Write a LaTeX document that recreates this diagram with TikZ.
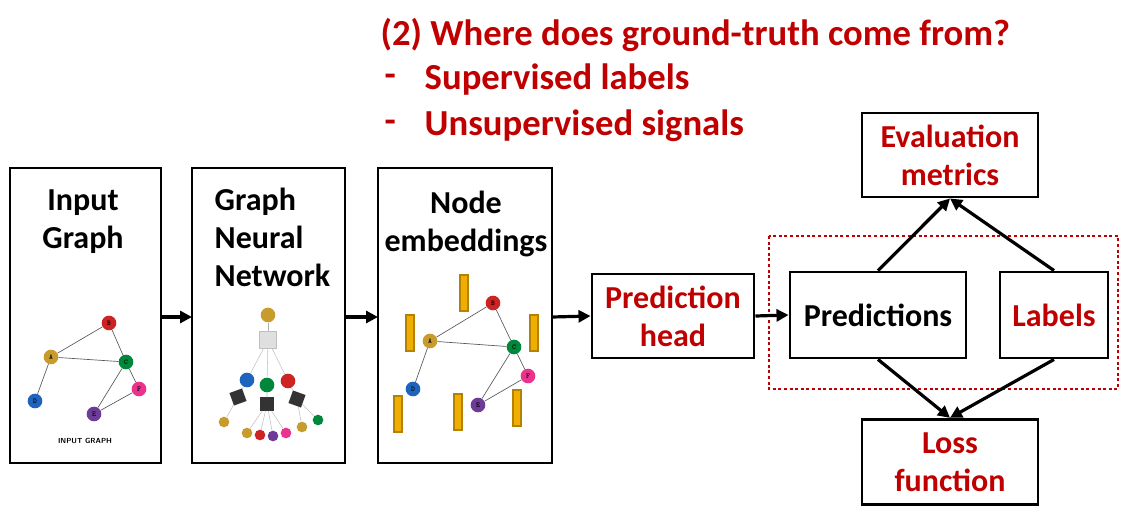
\documentclass[tikz,border=0pt]{standalone}
\usepackage{fontspec}
\setmainfont{Carlito}
\usetikzlibrary{arrows.meta}
\definecolor{dred}{RGB}{192,0,0}
\definecolor{gold}{RGB}{200,155,45}
\definecolor{nblue}{RGB}{30,100,190}
\definecolor{ngreen}{RGB}{0,135,60}
\definecolor{nred}{RGB}{205,35,35}
\definecolor{npink}{RGB}{235,50,140}
\definecolor{npurple}{RGB}{110,60,150}
\definecolor{bar}{RGB}{240,175,0}
\definecolor{bardk}{RGB}{180,130,0}
\tikzset{
  box/.style={draw, line width=2.2pt, inner sep=0pt},
  btxt/.style={font=\fontsize{24}{28.5}\selectfont\bfseries, align=center},
  ttxt/.style={anchor=west, text=dred, font=\fontsize{27.5}{30}\selectfont\bfseries},
  gn/.style={circle, fill=#1, minimum size=11pt, inner sep=0pt, font=\fontsize{5.5}{5.5}\selectfont\ttfamily\bfseries},
  ge/.style={draw=gray!70!black, line width=0.5pt},
  emb/.style={fill=bar, draw=bardk, line width=1.8pt, minimum width=6pt, minimum height=27pt, inner sep=0pt},
  arr/.style={-{Triangle[length=9pt,width=9pt]}, line width=2.4pt},
}
\begin{document}
\begin{tikzpicture}[x=0.75pt, y=-0.75pt]
\useasboundingbox (0,0) rectangle (1123,518);
% title
\node[ttxt] (title) at (376,35) {(2) Where does ground-truth come from?};
\node[ttxt] (dash1) at (380,80) {-};
\node[ttxt] (sup) at (420,80) {Supervised labels};
\node[ttxt] (dash2) at (380,126) {-};
\node[ttxt] (uns) at (420,126) {Unsupervised signals};
% boxes
\draw[box] (10,168) rectangle (161,463);
\draw[box] (192,168) rectangle (345,463);
\draw[box] (378,168) rectangle (552,463);
\node[btxt] (inp) at (83,222) {Input\\Graph};
\node[btxt, align=left, anchor=north west] (gnn) at (210,183) {Graph\\Neural\\Network};
\node[btxt] (ne) at (466,224) {Node\\embeddings};
\node[box, btxt, text=dred, minimum width=121.5pt, minimum height=63pt] (head) at (673,316) {Prediction\\head};
\node[box, btxt, minimum width=132pt, minimum height=64.5pt] (pred) at (878,315) {Predictions};
\node[box, btxt, text=dred, minimum width=81pt, minimum height=64.5pt] (lab) at (1054,315) {Labels};
\node[box, btxt, text=dred, minimum width=132pt, minimum height=63pt] (eval) at (950,155) {Evaluation\\metrics};
\node[box, btxt, text=dred, minimum width=132pt, minimum height=64pt] (loss) at (950,462) {Loss\\function};
\draw[dred, dotted, line width=2.2pt] (769,236) rectangle (1118,389);
% arrows
\draw[arr] (161,317) -- (192,317);
\draw[arr] (345,317) -- (378,317);
\draw[arr] (552,317) -- (head.west);
\draw[arr] (head.east) -- (pred.west);
\draw[arr] (pred.north) -- (eval.south);
\draw[arr] (lab.north) -- (eval.south);
\draw[arr] (pred.south) -- (loss.north);
\draw[arr] (lab.south) -- (loss.north);
% input graph
\node[gn=nred] (b1) at (109,323) {B};
\node[gn=gold] (a1) at (51,357) {A};
\node[gn=ngreen] (c1) at (126,362) {C};
\node[gn=npink] (f1) at (139,389) {F};
\node[gn=nblue] (d1) at (35,401) {D};
\node[gn=npurple] (e1) at (94,414) {E};
\draw[ge] (a1)--(b1) (b1)--(c1) (a1)--(c1) (a1)--(d1) (c1)--(f1) (c1)--(e1) (e1)--(f1);
\node[font=\fontsize{5.5}{6}\selectfont\sffamily\bfseries] (igl) at (85,441) {INPUT GRAPH};
% gnn tree
\node[gn=gold] (t0) at (268,315) {};
\node[fill=gray!25, draw=gray!50, minimum size=13pt, inner sep=0pt] (sq) at (268,340) {};
\node[gn=nblue] (t1) at (247,380) {};
\node[gn=ngreen] (t2) at (267,385) {};
\node[gn=nred] (t3) at (288,381) {};
\node[fill=gray!40!black, minimum size=10pt, inner sep=0pt, rotate=20] (s1) at (238,397) {};
\node[fill=gray!40!black, minimum size=10pt, inner sep=0pt] (s2) at (267,404) {};
\node[fill=gray!40!black, minimum size=10pt, inner sep=0pt, rotate=-20] (s3) at (297,399) {};
\foreach \n/\c/\x/\y/\p in {l1/gold/224/422/s1, l2/gold/247/433/s2, l3/nred/260/435/s2, l4/npurple/273/436/s2, l5/npink/286/433/s2, l6/gold/302/427/s3, l7/ngreen/318/420/s3}
  {\node[gn=\c, minimum size=8pt] (\n) at (\x,\y) {};
   \draw[gray!50] (\p) -- (\n);}
\draw[gray!60] (t0) -- (sq);
\foreach \t in {t1,t2,t3} \draw[gray!50] (sq) -- (\t);
\draw[gray!50] (t1) -- (s1) (t2) -- (s2) (t3) -- (s3);
% node embeddings
\node[gn=nred] (b2) at (493,303) {B};
\node[gn=gold] (a2) at (430,341) {A};
\node[gn=ngreen] (c2) at (514,347) {C};
\node[gn=npink] (f2) at (528,376) {F};
\node[gn=nblue] (d2) at (413,389) {D};
\node[gn=npurple] (e2) at (478,405) {E};
\draw[ge] (a2)--(b2) (b2)--(c2) (a2)--(c2) (a2)--(d2) (c2)--(f2) (c2)--(e2) (e2)--(f2);
\foreach \x/\y [count=\i] in {464/293, 410/333, 534/333, 398/414, 458/412, 517/408}
  \node[emb] (bar\i) at (\x,\y) {};
\end{tikzpicture}
\end{document}
